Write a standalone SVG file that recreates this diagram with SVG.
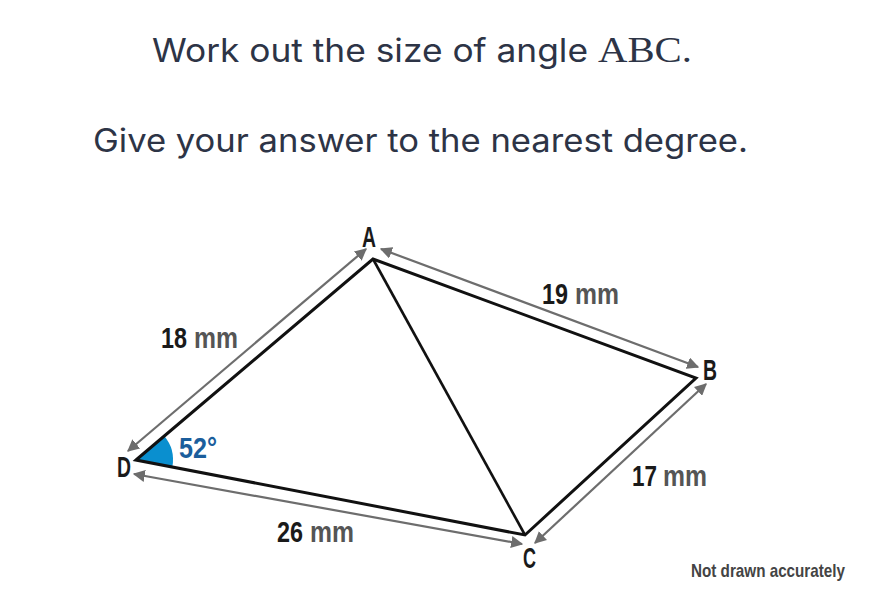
<svg xmlns="http://www.w3.org/2000/svg" width="887" height="589" viewBox="0 0 887 589">
<style>
.q{font-family:Inter,"Open Sans","Liberation Sans",sans-serif;font-size:32px;fill:#2d3446}
.m{font-family:"Liberation Serif","DejaVu Serif",serif;font-size:35px;fill:#2d3446}
.lbl{font-family:"Liberation Sans",Arial,sans-serif;font-weight:bold;font-size:29px;fill:#1a1a1a}
.dim{font-family:"Liberation Sans",Arial,sans-serif;font-weight:bold;font-size:30px;fill:#1a1a1a}
.mm{fill:#555555}
.edge{stroke:#111;stroke-width:3;fill:none;stroke-linejoin:miter}
.arr{stroke:#6d6d6d;stroke-width:2.2;fill:none;marker-start:url(#ah);marker-end:url(#ah)}
</style>
<defs>
<marker id="ah" viewBox="0 0 10 10" refX="9" refY="5" markerWidth="5.5" markerHeight="5.5" orient="auto-start-reverse" markerUnits="strokeWidth">
<path d="M0,0 L10,5 L0,10 Z" fill="#6d6d6d"/>
</marker>
</defs>
<rect width="887" height="589" fill="#ffffff"/>
<g id="question">
<text class="q" x="152" y="62" textLength="436" lengthAdjust="spacingAndGlyphs">Work out the size of angle</text>
<text class="m" x="598" y="62" textLength="94" lengthAdjust="spacingAndGlyphs">ABC.</text>
<text class="q" x="93" y="152" textLength="655" lengthAdjust="spacingAndGlyphs">Give your answer to the nearest degree.</text>
</g>
<g id="angle-D">
<path d="M136,460 L164.2,436.1 A37,37 0 0 1 172.3,467 Z" fill="#0a8fcf"/>
<text class="dim" x="179" y="458" textLength="38" lengthAdjust="spacingAndGlyphs" style="fill:#1b5e9c">52°</text>
</g>
<g id="connectors">
<path class="edge" d="M136,460 L373,259 L696,378 L525,535 Z"/>
<line x1="373" y1="259" x2="525" y2="535" stroke="#111" stroke-width="2.6"/>
<line class="arr" x1="128" y1="451" x2="366" y2="249"/>
<line class="arr" x1="381" y1="249" x2="698" y2="367"/>
<line class="arr" x1="706" y1="384" x2="535" y2="543"/>
<line class="arr" x1="134" y1="474" x2="522" y2="544"/>
</g>
<g id="node-A"><text class="lbl" x="362" y="247" textLength="14" lengthAdjust="spacingAndGlyphs">A</text></g>
<g id="node-B"><text class="lbl" x="703" y="380" textLength="14" lengthAdjust="spacingAndGlyphs">B</text></g>
<g id="node-C"><text class="lbl" x="523" y="568" textLength="13" lengthAdjust="spacingAndGlyphs">C</text></g>
<g id="node-D"><text class="lbl" x="117" y="477" textLength="14" lengthAdjust="spacingAndGlyphs">D</text></g>
<g id="labels">
<text class="dim" x="161" y="348" textLength="26" lengthAdjust="spacingAndGlyphs">18</text>
<text class="dim mm" x="194" y="348" textLength="44" lengthAdjust="spacingAndGlyphs">mm</text>
<text class="dim" x="542" y="304" textLength="26" lengthAdjust="spacingAndGlyphs">19</text>
<text class="dim mm" x="575" y="304" textLength="44" lengthAdjust="spacingAndGlyphs">mm</text>
<text class="dim" x="632" y="486" textLength="25" lengthAdjust="spacingAndGlyphs">17</text>
<text class="dim mm" x="663" y="486" textLength="44" lengthAdjust="spacingAndGlyphs">mm</text>
<text class="dim" x="277" y="542" textLength="26" lengthAdjust="spacingAndGlyphs">26</text>
<text class="dim mm" x="310" y="542" textLength="44" lengthAdjust="spacingAndGlyphs">mm</text>
<text x="691" y="577" font-family="Liberation Sans, Arial, sans-serif" font-weight="bold" font-size="19" fill="#444" textLength="154" lengthAdjust="spacingAndGlyphs">Not drawn accurately</text>
</g>
</svg>
